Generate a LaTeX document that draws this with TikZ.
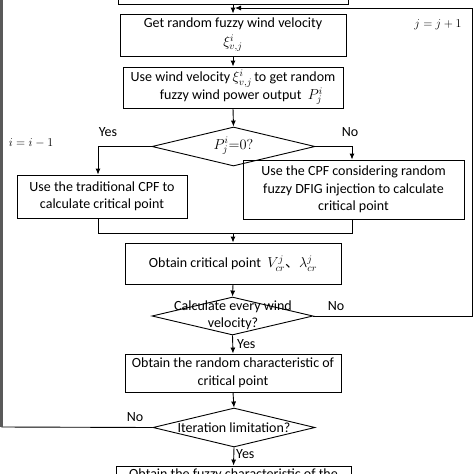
\documentclass[tikz,border=0pt]{standalone}
\usepackage{fontspec}
\setmainfont{Carlito}
\newfontfamily\cjk{Noto Sans CJK SC}
\usetikzlibrary{shapes.geometric,arrows.meta}
\begin{document}
\begin{tikzpicture}[x=1pt,y=-1pt,
  box/.style={draw,line width=0.9pt,inner sep=0pt,align=center,font=\fontsize{14}{17.5}\selectfont},
  dia/.style={draw,diamond,line width=0.9pt,inner sep=0pt},
  lbl/.style={font=\fontsize{14}{17.5}\selectfont,inner sep=0pt,align=center},
  mlbl/.style={font=\fontsize{12.5}{15}\selectfont,inner sep=0pt},
  arr/.style={line width=0.9pt,-{Latex[length=6pt,width=5pt]}},
  ln/.style={line width=0.9pt}]
\useasboundingbox (0,0) rectangle (474,474);
\clip (0,0) rectangle (474,474);
% boxes
\node[box,minimum width=230pt,minimum height=40pt] (top) at (233,-16) {};
\node[box,minimum width=226pt,minimum height=42pt] (b1) at (233,35)
  {Get random fuzzy wind velocity\\[1pt] $\xi^{i}_{v,j}$};
\node[box,minimum width=220pt,minimum height=41pt] (b2) at (233,87.5)
  {Use wind velocity$\,\xi^{i}_{v,j}\,$to get random\\ \hspace*{1.2em}fuzzy wind power output~~$P^{i}_{j}$};
\node[dia,minimum width=163pt,minimum height=39pt] (d1) at (233.5,146.5) {};
\node[lbl] (d1t) at (233.5,146) {$P^{i}_{j}{=}0?$};
\node[box,minimum width=170pt,minimum height=43pt] (lbox) at (102,196.5)
  {Use the traditional CPF to\\ calculate critical point};
\node[box,minimum width=221pt,minimum height=59pt] (rbox) at (353.5,189.5)
  {Use the CPF considering random\\ fuzzy DFIG injection to calculate\\ critical point};
\coordinate (j1) at (233,233);
\coordinate (jl) at (98,233);
\coordinate (jr) at (352,233);
\node[box,minimum width=216pt,minimum height=41pt] (b3) at (233,263.5)
  {Obtain critical point~~$V^{j}_{cr}${\cjk 、}$\lambda^{j}_{cr}$};
\node[dia,minimum width=161pt,minimum height=38pt] (d2) at (232.5,316) {};
\node[lbl] (d2t) at (233,315.5) {Calculate every wind\\ velocity?};
\node[box,minimum width=216pt,minimum height=38pt] (b4) at (233,373)
  {Obtain the random characteristic of\\ critical point};
\node[dia,minimum width=162pt,minimum height=39pt] (d3) at (234,427.5) {};
\node[lbl] (d3t) at (234,427.5) {Iteration limitation?};
\node[box,minimum width=235pt,minimum height=52pt] (b5) at (233.5,492) {};
\node[lbl,anchor=base] (b5t) at (233.5,478) {Obtain the fuzzy characteristic of the};
% labels
\node[lbl] (y1) at (108,132) {Yes};
\node[lbl] (n1) at (350,132) {No};
\node[mlbl] (ii) at (31,143) {$i=i-1$};
\node[mlbl] (jj) at (438,25) {$j=j+1$};
\node[lbl] (n2) at (336,306) {No};
\node[lbl,anchor=west] (y2) at (237,344) {Yes};
\node[lbl] (n3) at (135,417) {No};
\node[lbl,anchor=west] (y3) at (236,454) {Yes};
% connectors
\coordinate (rr1) at (472,316);
\coordinate (rr2) at (472,8);
\coordinate (tp) at (235,8);
\coordinate (ll1) at (1.5,427);
\coordinate (ll2) at (1.5,-5);
\draw[arr] (top.south) -- (b1.north);
\draw[arr] (b1.south) -- (b2.north);
\draw[arr] (b2.south) -- (d1.north);
\draw[arr] (d1.west) -| ([xshift=-4pt]lbox.north);
\draw[arr] (d1.east) -| ([xshift=-1.5pt]rbox.north);
\draw[ln] ([xshift=-4pt]lbox.south) -- (jl) -- (jr) -- ([xshift=-1.5pt]rbox.south);
\draw[arr] (j1) -- (b3.north);
\draw[arr] (b3.south) -- (d2.north);
\draw[arr] (d2.south) -- (b4.north);
\draw[arr] (b4.south) -- (d3.north);
\draw[arr] (d3.south) -- (b5.north);
\draw[arr] (d2.east) -- (rr1) -- (rr2) -- (tp);
\draw[ln] (d3.west) -- (ll1);
\draw[line width=3pt,black!65] (ll1) -- (ll2);
\end{tikzpicture}
\end{document}
